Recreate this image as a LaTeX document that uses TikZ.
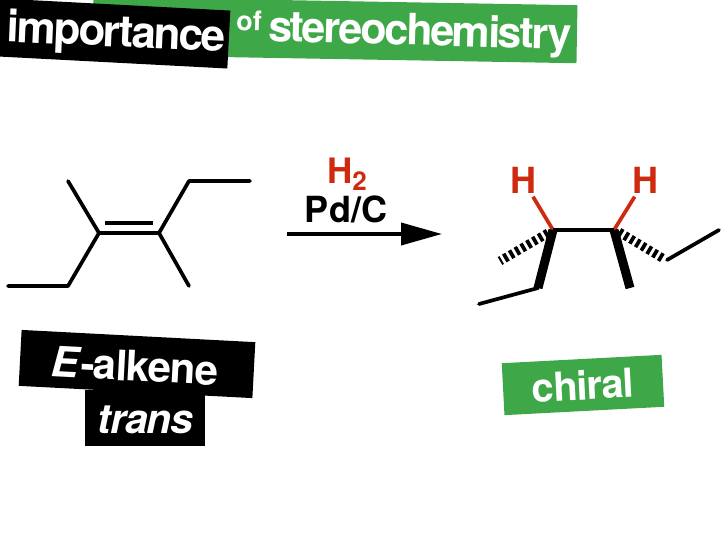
\documentclass[tikz,border=0pt]{standalone}
\usepackage{fontspec}
\setmainfont{TeX Gyre Heros}
\newfontfamily\tightfont[LetterSpace=-5]{TeX Gyre Heros}
\newfontfamily\snugfont[LetterSpace=-2.5]{TeX Gyre Heros}
\usetikzlibrary{arrows.meta}
\definecolor{bgreen}{RGB}{62,168,73}
\definecolor{hred}{RGB}{206,42,16}
\tikzset{bd/.append style={line width=3.7pt,line cap=round,line join=round}}
\tikzset{rd/.append style={line width=3.7pt,draw=hred}}
\tikzset{wd/.append style={line width=9pt}}
\tikzset{hs/.append style={line width=9pt,dash pattern=on 3.7pt off 3pt}}
\tikzset{bb/.append style={fill=black,text=white,inner sep=0pt}}
\tikzset{gb/.append style={fill=bgreen,text=white,inner sep=0pt}}
\begin{document}
\begin{tikzpicture}[x=1pt,y=-1pt]
                \useasboundingbox (0,0) rectangle (728,546);
                % title
                \begin{scope}
                \clip (0,0) rectangle (728,546);
                \node[gb,minimum width=484pt,minimum height=58pt,rotate=-1] (gt) at (335,30) {};
                \node[bb,minimum width=250pt,minimum height=58pt,rotate=-3] (bt) at (104,33) {};
                \end{scope}
                \node[text=white,font=\tightfont\bfseries\fontsize{44}{44}\selectfont,rotate=-2.5] (tit) at (116,35) {importance};
                \node[text=white,font=\bfseries\fontsize{27}{27}\selectfont,rotate=-1.5] (of) at (249,21) {of};
                \node[text=white,font=\tightfont\bfseries\fontsize{43}{43}\selectfont,rotate=-1.5] (st) at (420,34) {stereochemistry};
                % alkene
                \coordinate (a) at (99,233);
                \coordinate (b) at (159,233);
                \coordinate (c) at (68,181);
                \coordinate (d) at (68,286);
                \coordinate (e) at (8,286);
                \coordinate (f) at (189,181);
                \coordinate (g) at (250,181);
                \coordinate (h) at (189,286);
                \coordinate (i) at (105,223);
                \coordinate (j) at (153,223);
                \path[bd] (a) edge (c) edge (b);
                \draw[bd] (e) -- (d) -- (a);
                \draw[bd] (b) -- (f) -- (g);
                \draw[bd] (b) -- (h);
                \draw[bd,line cap=butt] (i) -- (j);
                % arrow
                \coordinate (p) at (287,234);
                \coordinate (q) at (442,234);
                \draw[line width=3.7pt,-{Triangle[length=41pt,width=22pt]}] (p) -- (q);
                \node[text=hred,font=\bfseries\fontsize{35}{35}\selectfont] (hh) at (347,174) {H\raisebox{-7pt}{\fontsize{26}{26}\selectfont 2}};
                \node[font=\bfseries\fontsize{36}{36}\selectfont] (pd) at (346,209) {Pd/C};
                % alkane
                \coordinate (k) at (553,230);
                \coordinate (l) at (614,230);
                \coordinate (m) at (538,288);
                \coordinate (n) at (479,304);
                \coordinate (o) at (630,288);
                \coordinate (r) at (667,260);
                \coordinate (s) at (719,230);
                \coordinate (t) at (548,233);
                \coordinate (u) at (500,261);
                \coordinate (v) at (619,232);
                \coordinate (w) at (664,259);
                \node[text=hred,font=\bfseries\fontsize{36}{36}\selectfont] (h1) at (523,180) {H};
                \node[text=hred,font=\bfseries\fontsize{36}{36}\selectfont] (h2) at (645,180) {H};
                \draw[rd] (k) -- (h1);
                \draw[rd] (l) -- (h2);
                \draw[line width=3.7pt] (k) -- (l);
                \draw[wd] (k) -- (m);
                \draw[wd] (l) -- (o);
                \draw[bd] (n) -- (m);
                \draw[bd] (r) -- (s);
                \draw[hs] (t) -- (u);
                \draw[hs] (v) -- (w);
                % labels
                \node[bb,minimum width=234pt,minimum height=56pt,rotate=-3] (el) at (137,364) {};
                \node[bb,minimum width=120pt,minimum height=56pt] (tr) at (145,418) {};
                \node[text=white,font=\snugfont\bfseries\fontsize{42}{42}\selectfont,rotate=-3] (et) at (135,366) {\textit{E}-alkene};
                \node[text=white,font=\snugfont\bfseries\fontsize{41}{41}\selectfont] (tt) at (145,420) {\textit{trans}};
                \node[gb,minimum width=160pt,minimum height=52pt,rotate=3,font=\snugfont\bfseries\fontsize{40}{40}\selectfont] (ch) at (583,385) {chiral};
            \end{tikzpicture}
\end{document}
